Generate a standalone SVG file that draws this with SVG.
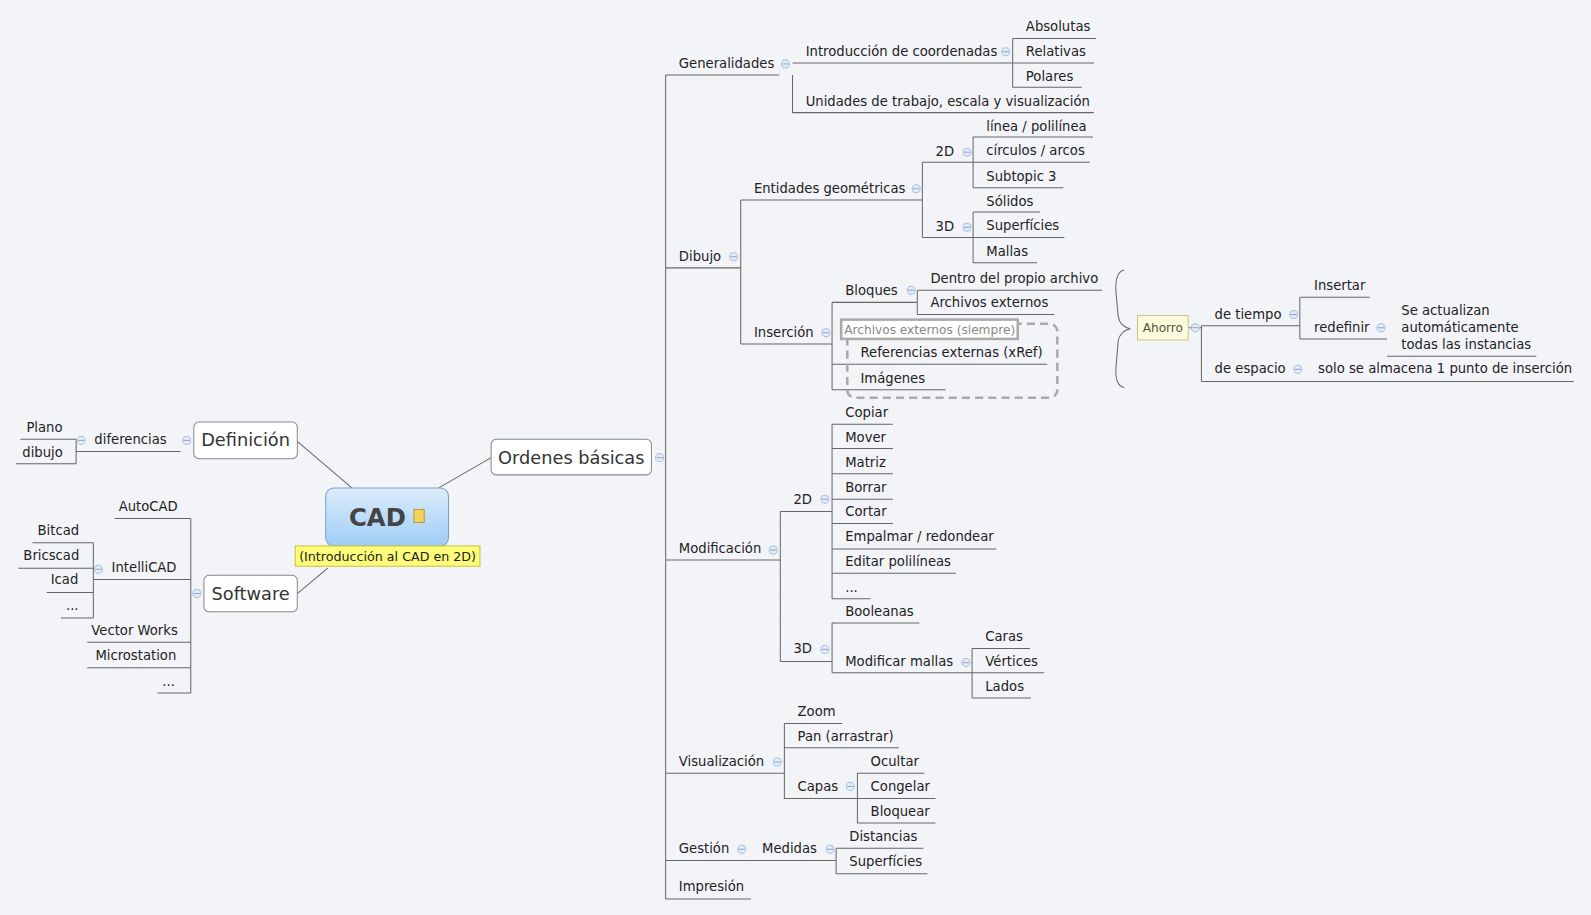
<svg xmlns="http://www.w3.org/2000/svg" width="1591" height="915" viewBox="0 0 1591 915">
<defs>
<style>
.t{font-family:"DejaVu Sans",sans-serif;font-size:13px;fill:#222}
.b{font-family:"DejaVu Sans",sans-serif;font-size:17.5px;fill:#333}
.c path,.c line{fill:none;stroke:#666;stroke-width:1}
.box{fill:#fff;stroke:#888;stroke-width:1}
.col circle{fill:#e3ecf8;stroke:#a9bfdc;stroke-width:1}
.col line{stroke:#8aa5cc;stroke-width:1}
</style>
<linearGradient id="g" x1="0" y1="0" x2="0" y2="1"><stop offset="0" stop-color="#dcecfb"/><stop offset="1" stop-color="#9fcdf7"/></linearGradient>
</defs>
<rect width="1591" height="915" fill="#f3f4f8"/>
<g transform="scale(1.0147)">
<g class="c" id="connectors">
<line x1="347" y1="481" x2="293" y2="435"/><line x1="432" y1="481" x2="484" y2="451"/><line x1="323" y1="560" x2="293" y2="585"/>
<path d="M656,74V886M656,74H768M656,264H730M656,552H769M656,762H773M656,848H738M656,886H740"/>
<path d="M781,74V111M781,62H998M781,111H1078M998,38V86M998,38H1080M998,62H1078M998,86H1066"/>
<path d="M730,197V339M730,197H909M730,339H820M909,160V234M909,160H959M909,234H959M959,135V185M959,135H1077M959,160H1074M959,185H1048M959,209V259M959,209H1025M959,234H1049M959,259H1022"/>
<path d="M820,298V384M820,298H904M904,286V310M904,286H1086M904,310H1039M820,359H1032M820,384H932"/>
<path d="M1184,321V376M1184,321H1281M1184,376H1551M1281,293V334M1281,293H1350M1281,334H1367M1367,351H1514"/>
<path d="M769,504V652M769,504H820M769,652H820M820,418V590M820,418H880M820,442H880M820,467H880M820,492H880M820,516H880M820,541H982M820,565H942M820,590H858M820,614V663M820,614H906M820,663H958M958,639V688M958,639H1015M958,663H1029M958,688H1016"/>
<path d="M773,713V787M773,713H830M773,737H886M773,787H845M845,762V811M845,762H911M845,787H922M845,811H922M738,848H824M824,836V861M824,836H910M824,861H914"/>
<path d="M178,445H75M75,433V457M75,433H20M75,457H16M188,511V683M188,511H113M188,571H92M188,633H86M188,658H86M188,683H155M92,535V609M92,535H32M92,560H18M92,584H46M92,609H60"/>
<path d="M1108,266Q1098,268 1100,290L1102,312Q1104,322 1114,324Q1104,326 1102,336L1100,360Q1098,380 1108,382" stroke="#888" stroke-width="3"/>
<path d="M1171,323H1184"/>
</g>
<g id="cad"><rect x="321" y="481" width="121" height="57" rx="8" fill="url(#g)" stroke="#7f9fc0"/><text x="372" y="518" text-anchor="middle" style="font-family:'DejaVu Sans',sans-serif;font-size:24px;font-weight:bold;fill:#444">CAD</text><rect x="408" y="502" width="10" height="13" fill="#f3d35c" stroke="#b08a20" stroke-width="0.8"/><rect x="291" y="538" width="182" height="20" fill="#fdfd7a" stroke="#c8c040"/><text class="t" x="382" y="553" text-anchor="middle" style="font-size:12.5px">(Introducción al CAD en 2D)</text></g>
<g id="ordenes"><rect class="box" x="484" y="433" width="158" height="35" rx="5"/><text class="b" x="563" y="457" text-anchor="middle">Ordenes básicas</text></g>
<g id="definicion"><rect class="box" x="191" y="416" width="102" height="36" rx="5"/><text class="b" x="242" y="440" text-anchor="middle">Definición</text></g>
<g id="software"><rect class="box" x="201" y="567" width="92" height="36" rx="5"/><text class="b" x="247" y="591" text-anchor="middle">Software</text></g>
<g id="ahorro"><rect x="1121" y="311" width="50" height="24" fill="#fbfbdc" stroke="#c9c48a"/><text class="t" x="1146" y="327" text-anchor="middle" style="font-size:12px;fill:#554">Ahorro</text></g>
<g id="xrefgroup"><rect x="835" y="319" width="207" height="73" rx="8" fill="none" stroke="#aaa" stroke-width="2.5" stroke-dasharray="8,5"/><rect x="829" y="315" width="174" height="19" fill="#fff" stroke="#aaa" stroke-width="2.5"/><text class="t" x="832" y="329" style="font-size:12px;fill:#888">Archivos externos (siempre)</text></g>
<g id="labels" class="t">
<text x="669" y="67">Generalidades</text><text x="794" y="55">Introducción de coordenadas</text><text x="794" y="104">Unidades de trabajo, escala y visualización</text>
<text x="1011" y="31">Absolutas</text><text x="1011" y="55">Relativas</text><text x="1011" y="80">Polares</text>
<text x="669" y="257">Dibujo</text><text x="743" y="190">Entidades geométricas</text><text x="922" y="154">2D</text><text x="922" y="228">3D</text>
<text x="972" y="129">línea / polilínea</text><text x="972" y="153">círculos / arcos</text><text x="972" y="178">Subtopic 3</text><text x="972" y="203">Sólidos</text><text x="972" y="227">Superfícies</text><text x="972" y="252">Mallas</text>
<text x="743" y="332">Inserción</text><text x="833" y="291">Bloques</text><text x="917" y="279">Dentro del propio archivo</text><text x="917" y="303">Archivos externos</text><text x="848" y="352">Referencias externas (xRef)</text><text x="848" y="377">Imágenes</text>
<text x="1197" y="314">de tiempo</text><text x="1197" y="368">de espacio</text><text x="1299" y="368">solo se almacena 1 punto de inserción</text><text x="1295" y="286">Insertar</text><text x="1295" y="327">redefinir</text><text x="1381" y="310">Se actualizan</text><text x="1381" y="327">automáticamente</text><text x="1381" y="344">todas las instancias</text>
<text x="669" y="545">Modificación</text><text x="782" y="497">2D</text><text x="782" y="644">3D</text>
<text x="833" y="411">Copiar</text><text x="833" y="436">Mover</text><text x="833" y="460">Matriz</text><text x="833" y="485">Borrar</text><text x="833" y="509">Cortar</text><text x="833" y="533">Empalmar / redondear</text><text x="833" y="558">Editar polilíneas</text><text x="833" y="583">...</text>
<text x="833" y="607">Booleanas</text><text x="833" y="656">Modificar mallas</text><text x="971" y="632">Caras</text><text x="971" y="656">Vértices</text><text x="971" y="681">Lados</text>
<text x="669" y="755">Visualización</text><text x="786" y="706">Zoom</text><text x="786" y="730">Pan (arrastrar)</text><text x="786" y="780">Capas</text><text x="858" y="755">Ocultar</text><text x="858" y="780">Congelar</text><text x="858" y="804">Bloquear</text>
<text x="669" y="841">Gestión</text><text x="751" y="841">Medidas</text><text x="837" y="829">Distancias</text><text x="837" y="853">Superfícies</text><text x="669" y="878">Impresión</text>
<text x="93" y="438">diferencias</text><text x="26" y="426">Plano</text><text x="22" y="450">dibujo</text>
<text x="117" y="504">AutoCAD</text><text x="110" y="564">IntelliCAD</text><text x="90" y="626">Vector Works</text><text x="94" y="650">Microstation</text><text x="160" y="676">...</text>
<text x="37" y="527">Bitcad</text><text x="23" y="552">Bricscad</text><text x="50" y="576">Icad</text><text x="65" y="601">...</text>
</g>
<g class="col" id="collapse">
<circle cx="650" cy="451" r="4"/><line x1="647" y1="451" x2="653" y2="451"/>
<circle cx="774" cy="63" r="4"/><line x1="771" y1="63" x2="777" y2="63"/>
<circle cx="991" cy="51" r="4"/><line x1="988" y1="51" x2="994" y2="51"/>
<circle cx="723" cy="253" r="4"/><line x1="720" y1="253" x2="726" y2="253"/>
<circle cx="903" cy="186" r="4"/><line x1="900" y1="186" x2="906" y2="186"/>
<circle cx="953" cy="150" r="4"/><line x1="950" y1="150" x2="956" y2="150"/>
<circle cx="953" cy="224" r="4"/><line x1="950" y1="224" x2="956" y2="224"/>
<circle cx="814" cy="328" r="4"/><line x1="811" y1="328" x2="817" y2="328"/>
<circle cx="898" cy="286" r="4"/><line x1="895" y1="286" x2="901" y2="286"/>
<circle cx="1178" cy="323" r="4"/><line x1="1175" y1="323" x2="1181" y2="323"/>
<circle cx="1275" cy="310" r="4"/><line x1="1272" y1="310" x2="1278" y2="310"/>
<circle cx="1279" cy="364" r="4"/><line x1="1276" y1="364" x2="1282" y2="364"/>
<circle cx="1361" cy="323" r="4"/><line x1="1358" y1="323" x2="1364" y2="323"/>
<circle cx="762" cy="542" r="4"/><line x1="759" y1="542" x2="765" y2="542"/>
<circle cx="813" cy="492" r="4"/><line x1="810" y1="492" x2="816" y2="492"/>
<circle cx="813" cy="640" r="4"/><line x1="810" y1="640" x2="816" y2="640"/>
<circle cx="952" cy="653" r="4"/><line x1="949" y1="653" x2="955" y2="653"/>
<circle cx="766" cy="751" r="4"/><line x1="763" y1="751" x2="769" y2="751"/>
<circle cx="838" cy="775" r="4"/><line x1="835" y1="775" x2="841" y2="775"/>
<circle cx="731" cy="837" r="4"/><line x1="728" y1="837" x2="734" y2="837"/>
<circle cx="818" cy="837" r="4"/><line x1="815" y1="837" x2="821" y2="837"/>
<circle cx="184" cy="434" r="4"/><line x1="181" y1="434" x2="187" y2="434"/>
<circle cx="80" cy="434" r="4"/><line x1="77" y1="434" x2="83" y2="434"/>
<circle cx="194" cy="585" r="4"/><line x1="191" y1="585" x2="197" y2="585"/>
<circle cx="97" cy="561" r="4"/><line x1="94" y1="561" x2="100" y2="561"/>
</g>
</g>
</svg>
